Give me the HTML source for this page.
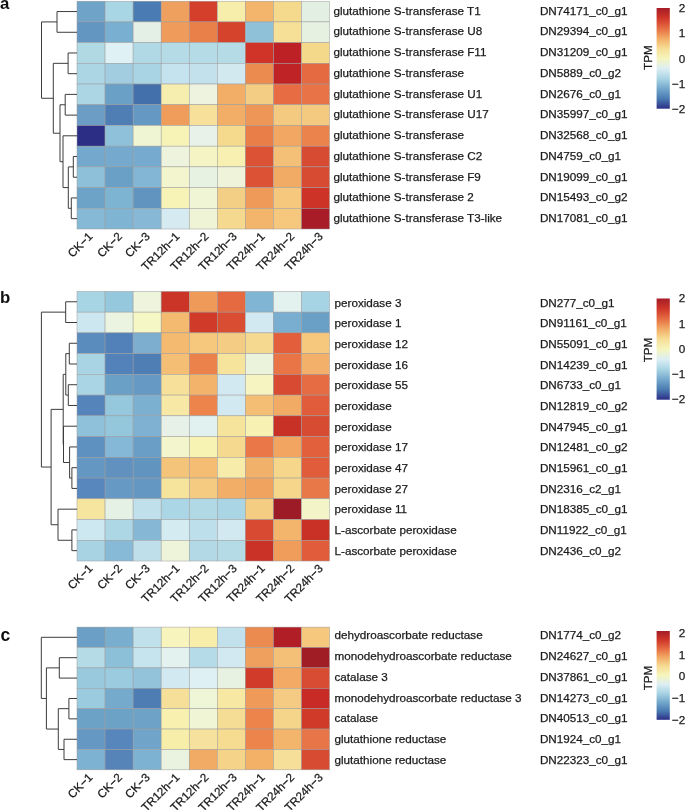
<!DOCTYPE html>
<html><head><meta charset="utf-8"><style>
html,body{margin:0;padding:0;background:#fff;}
body{width:685px;height:810px;overflow:hidden;}
svg{display:block;} text{filter:grayscale(1);}
text{font-family:"Liberation Sans",sans-serif;font-size:11.7px;fill:#1a1a1a;stroke:#1a1a1a;stroke-width:0.25px;}
text.lt{font-weight:bold;font-size:16.8px;fill:#150d0d;stroke:none;}
line{stroke:#3c3c3c;stroke-width:1.0;}
</style></head><body>
<svg width="685" height="810" viewBox="0 0 685 810">
<defs><linearGradient id="lg" x1="0" y1="0" x2="0" y2="1"><stop offset="0.00" stop-color="#a51c27"/><stop offset="0.10" stop-color="#cf3628"/><stop offset="0.20" stop-color="#e56c43"/><stop offset="0.30" stop-color="#f2ab65"/><stop offset="0.40" stop-color="#f6dd95"/><stop offset="0.50" stop-color="#f6f5bd"/><stop offset="0.60" stop-color="#dceef3"/><stop offset="0.70" stop-color="#a9d4e4"/><stop offset="0.80" stop-color="#74a8cc"/><stop offset="0.90" stop-color="#4a7bb2"/><stop offset="1.00" stop-color="#2c2e85"/></linearGradient></defs>
<rect width="685" height="810" fill="#fff"/>
<rect x="77.00" y="1.20" width="28.06" height="20.71" fill="#6fa3c7" stroke="#9c9c9c" stroke-width="0.5"/>
<rect x="105.06" y="1.20" width="28.06" height="20.71" fill="#a9d6e4" stroke="#9c9c9c" stroke-width="0.5"/>
<rect x="133.12" y="1.20" width="28.06" height="20.71" fill="#4a7bb2" stroke="#9c9c9c" stroke-width="0.5"/>
<rect x="161.18" y="1.20" width="28.06" height="20.71" fill="#f0a05e" stroke="#9c9c9c" stroke-width="0.5"/>
<rect x="189.24" y="1.20" width="28.06" height="20.71" fill="#d33f2b" stroke="#9c9c9c" stroke-width="0.5"/>
<rect x="217.30" y="1.20" width="28.06" height="20.71" fill="#f6eeaa" stroke="#9c9c9c" stroke-width="0.5"/>
<rect x="245.36" y="1.20" width="28.06" height="20.71" fill="#f2b56b" stroke="#9c9c9c" stroke-width="0.5"/>
<rect x="273.42" y="1.20" width="28.06" height="20.71" fill="#f5d98c" stroke="#9c9c9c" stroke-width="0.5"/>
<rect x="301.48" y="1.20" width="28.06" height="20.71" fill="#e4efe4" stroke="#9c9c9c" stroke-width="0.5"/>
<rect x="77.00" y="21.91" width="28.06" height="20.71" fill="#6496c2" stroke="#9c9c9c" stroke-width="0.5"/>
<rect x="105.06" y="21.91" width="28.06" height="20.71" fill="#79afd0" stroke="#9c9c9c" stroke-width="0.5"/>
<rect x="133.12" y="21.91" width="28.06" height="20.71" fill="#e4efe6" stroke="#9c9c9c" stroke-width="0.5"/>
<rect x="161.18" y="21.91" width="28.06" height="20.71" fill="#ef9b5b" stroke="#9c9c9c" stroke-width="0.5"/>
<rect x="189.24" y="21.91" width="28.06" height="20.71" fill="#ea8049" stroke="#9c9c9c" stroke-width="0.5"/>
<rect x="217.30" y="21.91" width="28.06" height="20.71" fill="#d5432c" stroke="#9c9c9c" stroke-width="0.5"/>
<rect x="245.36" y="21.91" width="28.06" height="20.71" fill="#8fc1d9" stroke="#9c9c9c" stroke-width="0.5"/>
<rect x="273.42" y="21.91" width="28.06" height="20.71" fill="#f6df96" stroke="#9c9c9c" stroke-width="0.5"/>
<rect x="301.48" y="21.91" width="28.06" height="20.71" fill="#e6f1e2" stroke="#9c9c9c" stroke-width="0.5"/>
<rect x="77.00" y="42.62" width="28.06" height="20.71" fill="#b0d9e4" stroke="#9c9c9c" stroke-width="0.5"/>
<rect x="105.06" y="42.62" width="28.06" height="20.71" fill="#e0f1f5" stroke="#9c9c9c" stroke-width="0.5"/>
<rect x="133.12" y="42.62" width="28.06" height="20.71" fill="#b1d9e5" stroke="#9c9c9c" stroke-width="0.5"/>
<rect x="161.18" y="42.62" width="28.06" height="20.71" fill="#b4dbe6" stroke="#9c9c9c" stroke-width="0.5"/>
<rect x="189.24" y="42.62" width="28.06" height="20.71" fill="#b4dbe6" stroke="#9c9c9c" stroke-width="0.5"/>
<rect x="217.30" y="42.62" width="28.06" height="20.71" fill="#b4dbe6" stroke="#9c9c9c" stroke-width="0.5"/>
<rect x="245.36" y="42.62" width="28.06" height="20.71" fill="#d03428" stroke="#9c9c9c" stroke-width="0.5"/>
<rect x="273.42" y="42.62" width="28.06" height="20.71" fill="#bd2025" stroke="#9c9c9c" stroke-width="0.5"/>
<rect x="301.48" y="42.62" width="28.06" height="20.71" fill="#f5d98b" stroke="#9c9c9c" stroke-width="0.5"/>
<rect x="77.00" y="63.33" width="28.06" height="20.71" fill="#acd6e4" stroke="#9c9c9c" stroke-width="0.5"/>
<rect x="105.06" y="63.33" width="28.06" height="20.71" fill="#a2cde0" stroke="#9c9c9c" stroke-width="0.5"/>
<rect x="133.12" y="63.33" width="28.06" height="20.71" fill="#a9d4e4" stroke="#9c9c9c" stroke-width="0.5"/>
<rect x="161.18" y="63.33" width="28.06" height="20.71" fill="#c5e3ef" stroke="#9c9c9c" stroke-width="0.5"/>
<rect x="189.24" y="63.33" width="28.06" height="20.71" fill="#c2e1ed" stroke="#9c9c9c" stroke-width="0.5"/>
<rect x="217.30" y="63.33" width="28.06" height="20.71" fill="#d3e9f0" stroke="#9c9c9c" stroke-width="0.5"/>
<rect x="245.36" y="63.33" width="28.06" height="20.71" fill="#ec8b4f" stroke="#9c9c9c" stroke-width="0.5"/>
<rect x="273.42" y="63.33" width="28.06" height="20.71" fill="#bf2326" stroke="#9c9c9c" stroke-width="0.5"/>
<rect x="301.48" y="63.33" width="28.06" height="20.71" fill="#e56a41" stroke="#9c9c9c" stroke-width="0.5"/>
<rect x="77.00" y="84.04" width="28.06" height="20.71" fill="#acd6e4" stroke="#9c9c9c" stroke-width="0.5"/>
<rect x="105.06" y="84.04" width="28.06" height="20.71" fill="#6a9fc6" stroke="#9c9c9c" stroke-width="0.5"/>
<rect x="133.12" y="84.04" width="28.06" height="20.71" fill="#436fab" stroke="#9c9c9c" stroke-width="0.5"/>
<rect x="161.18" y="84.04" width="28.06" height="20.71" fill="#f6eeae" stroke="#9c9c9c" stroke-width="0.5"/>
<rect x="189.24" y="84.04" width="28.06" height="20.71" fill="#eef3e0" stroke="#9c9c9c" stroke-width="0.5"/>
<rect x="217.30" y="84.04" width="28.06" height="20.71" fill="#f2ae66" stroke="#9c9c9c" stroke-width="0.5"/>
<rect x="245.36" y="84.04" width="28.06" height="20.71" fill="#f4cd84" stroke="#9c9c9c" stroke-width="0.5"/>
<rect x="273.42" y="84.04" width="28.06" height="20.71" fill="#e76c43" stroke="#9c9c9c" stroke-width="0.5"/>
<rect x="301.48" y="84.04" width="28.06" height="20.71" fill="#e77347" stroke="#9c9c9c" stroke-width="0.5"/>
<rect x="77.00" y="104.75" width="28.06" height="20.71" fill="#6b9dc5" stroke="#9c9c9c" stroke-width="0.5"/>
<rect x="105.06" y="104.75" width="28.06" height="20.71" fill="#4f7eb4" stroke="#9c9c9c" stroke-width="0.5"/>
<rect x="133.12" y="104.75" width="28.06" height="20.71" fill="#6599c3" stroke="#9c9c9c" stroke-width="0.5"/>
<rect x="161.18" y="104.75" width="28.06" height="20.71" fill="#f09c5b" stroke="#9c9c9c" stroke-width="0.5"/>
<rect x="189.24" y="104.75" width="28.06" height="20.71" fill="#f6e09a" stroke="#9c9c9c" stroke-width="0.5"/>
<rect x="217.30" y="104.75" width="28.06" height="20.71" fill="#f2ad66" stroke="#9c9c9c" stroke-width="0.5"/>
<rect x="245.36" y="104.75" width="28.06" height="20.71" fill="#ee9657" stroke="#9c9c9c" stroke-width="0.5"/>
<rect x="273.42" y="104.75" width="28.06" height="20.71" fill="#f4ca80" stroke="#9c9c9c" stroke-width="0.5"/>
<rect x="301.48" y="104.75" width="28.06" height="20.71" fill="#f4ca80" stroke="#9c9c9c" stroke-width="0.5"/>
<rect x="77.00" y="125.46" width="28.06" height="20.71" fill="#2c2e85" stroke="#9c9c9c" stroke-width="0.5"/>
<rect x="105.06" y="125.46" width="28.06" height="20.71" fill="#8fc2da" stroke="#9c9c9c" stroke-width="0.5"/>
<rect x="133.12" y="125.46" width="28.06" height="20.71" fill="#eff5d2" stroke="#9c9c9c" stroke-width="0.5"/>
<rect x="161.18" y="125.46" width="28.06" height="20.71" fill="#f7f3b7" stroke="#9c9c9c" stroke-width="0.5"/>
<rect x="189.24" y="125.46" width="28.06" height="20.71" fill="#e8f2e9" stroke="#9c9c9c" stroke-width="0.5"/>
<rect x="217.30" y="125.46" width="28.06" height="20.71" fill="#f5d98c" stroke="#9c9c9c" stroke-width="0.5"/>
<rect x="245.36" y="125.46" width="28.06" height="20.71" fill="#ea7e48" stroke="#9c9c9c" stroke-width="0.5"/>
<rect x="273.42" y="125.46" width="28.06" height="20.71" fill="#f2a863" stroke="#9c9c9c" stroke-width="0.5"/>
<rect x="301.48" y="125.46" width="28.06" height="20.71" fill="#eb844c" stroke="#9c9c9c" stroke-width="0.5"/>
<rect x="77.00" y="146.17" width="28.06" height="20.71" fill="#74a8cc" stroke="#9c9c9c" stroke-width="0.5"/>
<rect x="105.06" y="146.17" width="28.06" height="20.71" fill="#75a9cd" stroke="#9c9c9c" stroke-width="0.5"/>
<rect x="133.12" y="146.17" width="28.06" height="20.71" fill="#76aace" stroke="#9c9c9c" stroke-width="0.5"/>
<rect x="161.18" y="146.17" width="28.06" height="20.71" fill="#edf3dc" stroke="#9c9c9c" stroke-width="0.5"/>
<rect x="189.24" y="146.17" width="28.06" height="20.71" fill="#f4f4c5" stroke="#9c9c9c" stroke-width="0.5"/>
<rect x="217.30" y="146.17" width="28.06" height="20.71" fill="#f7f0b0" stroke="#9c9c9c" stroke-width="0.5"/>
<rect x="245.36" y="146.17" width="28.06" height="20.71" fill="#db5334" stroke="#9c9c9c" stroke-width="0.5"/>
<rect x="273.42" y="146.17" width="28.06" height="20.71" fill="#f4c077" stroke="#9c9c9c" stroke-width="0.5"/>
<rect x="301.48" y="146.17" width="28.06" height="20.71" fill="#d84b33" stroke="#9c9c9c" stroke-width="0.5"/>
<rect x="77.00" y="166.88" width="28.06" height="20.71" fill="#8ec1d9" stroke="#9c9c9c" stroke-width="0.5"/>
<rect x="105.06" y="166.88" width="28.06" height="20.71" fill="#6aa0c5" stroke="#9c9c9c" stroke-width="0.5"/>
<rect x="133.12" y="166.88" width="28.06" height="20.71" fill="#83b6d5" stroke="#9c9c9c" stroke-width="0.5"/>
<rect x="161.18" y="166.88" width="28.06" height="20.71" fill="#f3f5ce" stroke="#9c9c9c" stroke-width="0.5"/>
<rect x="189.24" y="166.88" width="28.06" height="20.71" fill="#e8f2e3" stroke="#9c9c9c" stroke-width="0.5"/>
<rect x="217.30" y="166.88" width="28.06" height="20.71" fill="#eef3da" stroke="#9c9c9c" stroke-width="0.5"/>
<rect x="245.36" y="166.88" width="28.06" height="20.71" fill="#db5334" stroke="#9c9c9c" stroke-width="0.5"/>
<rect x="273.42" y="166.88" width="28.06" height="20.71" fill="#f2ab65" stroke="#9c9c9c" stroke-width="0.5"/>
<rect x="301.48" y="166.88" width="28.06" height="20.71" fill="#d84b33" stroke="#9c9c9c" stroke-width="0.5"/>
<rect x="77.00" y="187.59" width="28.06" height="20.71" fill="#6ea3c8" stroke="#9c9c9c" stroke-width="0.5"/>
<rect x="105.06" y="187.59" width="28.06" height="20.71" fill="#7db4d1" stroke="#9c9c9c" stroke-width="0.5"/>
<rect x="133.12" y="187.59" width="28.06" height="20.71" fill="#6294c0" stroke="#9c9c9c" stroke-width="0.5"/>
<rect x="161.18" y="187.59" width="28.06" height="20.71" fill="#f7f3b7" stroke="#9c9c9c" stroke-width="0.5"/>
<rect x="189.24" y="187.59" width="28.06" height="20.71" fill="#f0f5d5" stroke="#9c9c9c" stroke-width="0.5"/>
<rect x="217.30" y="187.59" width="28.06" height="20.71" fill="#f3cf85" stroke="#9c9c9c" stroke-width="0.5"/>
<rect x="245.36" y="187.59" width="28.06" height="20.71" fill="#ef9a59" stroke="#9c9c9c" stroke-width="0.5"/>
<rect x="273.42" y="187.59" width="28.06" height="20.71" fill="#f5c87d" stroke="#9c9c9c" stroke-width="0.5"/>
<rect x="301.48" y="187.59" width="28.06" height="20.71" fill="#cd3327" stroke="#9c9c9c" stroke-width="0.5"/>
<rect x="77.00" y="208.30" width="28.06" height="20.71" fill="#85b9d6" stroke="#9c9c9c" stroke-width="0.5"/>
<rect x="105.06" y="208.30" width="28.06" height="20.71" fill="#80b4d3" stroke="#9c9c9c" stroke-width="0.5"/>
<rect x="133.12" y="208.30" width="28.06" height="20.71" fill="#87b9d6" stroke="#9c9c9c" stroke-width="0.5"/>
<rect x="161.18" y="208.30" width="28.06" height="20.71" fill="#d5eaf1" stroke="#9c9c9c" stroke-width="0.5"/>
<rect x="189.24" y="208.30" width="28.06" height="20.71" fill="#eef4d5" stroke="#9c9c9c" stroke-width="0.5"/>
<rect x="217.30" y="208.30" width="28.06" height="20.71" fill="#f5d98e" stroke="#9c9c9c" stroke-width="0.5"/>
<rect x="245.36" y="208.30" width="28.06" height="20.71" fill="#f3b46b" stroke="#9c9c9c" stroke-width="0.5"/>
<rect x="273.42" y="208.30" width="28.06" height="20.71" fill="#f5c87e" stroke="#9c9c9c" stroke-width="0.5"/>
<rect x="301.48" y="208.30" width="28.06" height="20.71" fill="#a71c26" stroke="#9c9c9c" stroke-width="0.5"/>
<text x="333.4" y="14.55">glutathione S-transferase T1</text>
<text x="539.9" y="14.55">DN74171_c0_g1</text>
<text x="333.4" y="35.31">glutathione S-transferase U8</text>
<text x="539.9" y="35.31">DN29394_c0_g1</text>
<text x="333.4" y="56.07">glutathione S-transferase F11</text>
<text x="539.9" y="56.07">DN31209_c0_g1</text>
<text x="333.4" y="76.83">glutathione S-transferase</text>
<text x="539.9" y="76.83">DN5889_c0_g2</text>
<text x="333.4" y="97.59">glutathione S-transferase U1</text>
<text x="539.9" y="97.59">DN2676_c0_g1</text>
<text x="333.4" y="118.35">glutathione S-transferase U17</text>
<text x="539.9" y="118.35">DN35997_c0_g1</text>
<text x="333.4" y="139.11">glutathione S-transferase</text>
<text x="539.9" y="139.11">DN32568_c0_g1</text>
<text x="333.4" y="159.87">glutathione S-transferase C2</text>
<text x="539.9" y="159.87">DN4759_c0_g1</text>
<text x="333.4" y="180.63">glutathione S-transferase F9</text>
<text x="539.9" y="180.63">DN19099_c0_g1</text>
<text x="333.4" y="201.39">glutathione S-transferase 2</text>
<text x="539.9" y="201.39">DN15493_c0_g2</text>
<text x="333.4" y="222.15">glutathione S-transferase T3-like</text>
<text x="539.9" y="222.15">DN17081_c0_g1</text>
<text text-anchor="end" transform="translate(93.43,237.21) rotate(-45)">CK−1</text>
<text text-anchor="end" transform="translate(122.89,237.21) rotate(-45)">CK−2</text>
<text text-anchor="end" transform="translate(150.65,237.21) rotate(-45)">CK−3</text>
<text text-anchor="end" transform="translate(180.41,237.21) rotate(-45)">TR12h−1</text>
<text text-anchor="end" transform="translate(209.47,237.21) rotate(-45)">TR12h−2</text>
<text text-anchor="end" transform="translate(237.53,237.21) rotate(-45)">TR12h−3</text>
<text text-anchor="end" transform="translate(265.69,237.21) rotate(-45)">TR24h−1</text>
<text text-anchor="end" transform="translate(295.15,237.21) rotate(-45)">TR24h−2</text>
<text text-anchor="end" transform="translate(323.61,237.21) rotate(-45)">TR24h−3</text>
<line x1="57.00" y1="11.55" x2="57.00" y2="32.27"/>
<line x1="57.00" y1="11.55" x2="77.00" y2="11.55"/>
<line x1="57.00" y1="32.27" x2="77.00" y2="32.27"/>
<line x1="68.10" y1="52.98" x2="68.10" y2="73.69"/>
<line x1="68.10" y1="52.98" x2="77.00" y2="52.98"/>
<line x1="68.10" y1="73.69" x2="77.00" y2="73.69"/>
<line x1="65.20" y1="94.40" x2="65.20" y2="115.11"/>
<line x1="65.20" y1="94.40" x2="77.00" y2="94.40"/>
<line x1="65.20" y1="115.11" x2="77.00" y2="115.11"/>
<line x1="73.30" y1="156.53" x2="73.30" y2="177.23"/>
<line x1="73.30" y1="156.53" x2="77.00" y2="156.53"/>
<line x1="73.30" y1="177.23" x2="77.00" y2="177.23"/>
<line x1="71.30" y1="197.94" x2="71.30" y2="218.66"/>
<line x1="71.30" y1="197.94" x2="77.00" y2="197.94"/>
<line x1="71.30" y1="218.66" x2="77.00" y2="218.66"/>
<line x1="68.30" y1="166.88" x2="68.30" y2="208.30"/>
<line x1="68.30" y1="166.88" x2="73.30" y2="166.88"/>
<line x1="68.30" y1="208.30" x2="71.30" y2="208.30"/>
<line x1="63.00" y1="135.81" x2="63.00" y2="187.59"/>
<line x1="63.00" y1="135.81" x2="77.00" y2="135.81"/>
<line x1="63.00" y1="187.59" x2="68.30" y2="187.59"/>
<line x1="60.00" y1="104.75" x2="60.00" y2="161.70"/>
<line x1="60.00" y1="104.75" x2="65.20" y2="104.75"/>
<line x1="60.00" y1="161.70" x2="63.00" y2="161.70"/>
<line x1="53.30" y1="63.33" x2="53.30" y2="133.23"/>
<line x1="53.30" y1="63.33" x2="68.10" y2="63.33"/>
<line x1="53.30" y1="133.23" x2="60.00" y2="133.23"/>
<line x1="41.50" y1="21.91" x2="41.50" y2="98.28"/>
<line x1="41.50" y1="21.91" x2="57.00" y2="21.91"/>
<line x1="41.50" y1="98.28" x2="53.30" y2="98.28"/>
<text class="lt" x="0.0" y="9.3" style="font-size:16.8px">a</text>
<rect x="656.6" y="8.0" width="13.2" height="100.70" fill="url(#lg)"/>
<text text-anchor="end" x="685.3" y="12.05">2</text>
<text text-anchor="end" x="685.3" y="37.10">1</text>
<text text-anchor="end" x="685.3" y="62.50">0</text>
<text text-anchor="end" x="685.3" y="87.50">−1</text>
<text text-anchor="end" x="685.3" y="112.50">−2</text>
<text text-anchor="middle" transform="translate(652.2,57.60) rotate(-90)">TPM</text>
<rect x="77.00" y="291.40" width="28.06" height="20.74" fill="#a8d5e4" stroke="#9c9c9c" stroke-width="0.5"/>
<rect x="105.06" y="291.40" width="28.06" height="20.74" fill="#96c8dd" stroke="#9c9c9c" stroke-width="0.5"/>
<rect x="133.12" y="291.40" width="28.06" height="20.74" fill="#eef5dc" stroke="#9c9c9c" stroke-width="0.5"/>
<rect x="161.18" y="291.40" width="28.06" height="20.74" fill="#cb3527" stroke="#9c9c9c" stroke-width="0.5"/>
<rect x="189.24" y="291.40" width="28.06" height="20.74" fill="#ef9a59" stroke="#9c9c9c" stroke-width="0.5"/>
<rect x="217.30" y="291.40" width="28.06" height="20.74" fill="#e56a42" stroke="#9c9c9c" stroke-width="0.5"/>
<rect x="245.36" y="291.40" width="28.06" height="20.74" fill="#80b6d4" stroke="#9c9c9c" stroke-width="0.5"/>
<rect x="273.42" y="291.40" width="28.06" height="20.74" fill="#e3f2ee" stroke="#9c9c9c" stroke-width="0.5"/>
<rect x="301.48" y="291.40" width="28.06" height="20.74" fill="#a7d4e4" stroke="#9c9c9c" stroke-width="0.5"/>
<rect x="77.00" y="312.14" width="28.06" height="20.74" fill="#cde7f1" stroke="#9c9c9c" stroke-width="0.5"/>
<rect x="105.06" y="312.14" width="28.06" height="20.74" fill="#eaf4e1" stroke="#9c9c9c" stroke-width="0.5"/>
<rect x="133.12" y="312.14" width="28.06" height="20.74" fill="#f5f7c5" stroke="#9c9c9c" stroke-width="0.5"/>
<rect x="161.18" y="312.14" width="28.06" height="20.74" fill="#f4bb70" stroke="#9c9c9c" stroke-width="0.5"/>
<rect x="189.24" y="312.14" width="28.06" height="20.74" fill="#d03a29" stroke="#9c9c9c" stroke-width="0.5"/>
<rect x="217.30" y="312.14" width="28.06" height="20.74" fill="#d94d33" stroke="#9c9c9c" stroke-width="0.5"/>
<rect x="245.36" y="312.14" width="28.06" height="20.74" fill="#d3e9f1" stroke="#9c9c9c" stroke-width="0.5"/>
<rect x="273.42" y="312.14" width="28.06" height="20.74" fill="#7aaed0" stroke="#9c9c9c" stroke-width="0.5"/>
<rect x="301.48" y="312.14" width="28.06" height="20.74" fill="#6a9fc6" stroke="#9c9c9c" stroke-width="0.5"/>
<rect x="77.00" y="332.88" width="28.06" height="20.74" fill="#5a8cbe" stroke="#9c9c9c" stroke-width="0.5"/>
<rect x="105.06" y="332.88" width="28.06" height="20.74" fill="#5281b9" stroke="#9c9c9c" stroke-width="0.5"/>
<rect x="133.12" y="332.88" width="28.06" height="20.74" fill="#7daed0" stroke="#9c9c9c" stroke-width="0.5"/>
<rect x="161.18" y="332.88" width="28.06" height="20.74" fill="#f4bb70" stroke="#9c9c9c" stroke-width="0.5"/>
<rect x="189.24" y="332.88" width="28.06" height="20.74" fill="#f5c87e" stroke="#9c9c9c" stroke-width="0.5"/>
<rect x="217.30" y="332.88" width="28.06" height="20.74" fill="#f5cc83" stroke="#9c9c9c" stroke-width="0.5"/>
<rect x="245.36" y="332.88" width="28.06" height="20.74" fill="#f6d990" stroke="#9c9c9c" stroke-width="0.5"/>
<rect x="273.42" y="332.88" width="28.06" height="20.74" fill="#e35e3b" stroke="#9c9c9c" stroke-width="0.5"/>
<rect x="301.48" y="332.88" width="28.06" height="20.74" fill="#f5c87e" stroke="#9c9c9c" stroke-width="0.5"/>
<rect x="77.00" y="353.62" width="28.06" height="20.74" fill="#a9d4e3" stroke="#9c9c9c" stroke-width="0.5"/>
<rect x="105.06" y="353.62" width="28.06" height="20.74" fill="#5381b9" stroke="#9c9c9c" stroke-width="0.5"/>
<rect x="133.12" y="353.62" width="28.06" height="20.74" fill="#4f7eb5" stroke="#9c9c9c" stroke-width="0.5"/>
<rect x="161.18" y="353.62" width="28.06" height="20.74" fill="#f4bf74" stroke="#9c9c9c" stroke-width="0.5"/>
<rect x="189.24" y="353.62" width="28.06" height="20.74" fill="#ec824b" stroke="#9c9c9c" stroke-width="0.5"/>
<rect x="217.30" y="353.62" width="28.06" height="20.74" fill="#f6e39c" stroke="#9c9c9c" stroke-width="0.5"/>
<rect x="245.36" y="353.62" width="28.06" height="20.74" fill="#ebf3dc" stroke="#9c9c9c" stroke-width="0.5"/>
<rect x="273.42" y="353.62" width="28.06" height="20.74" fill="#e97546" stroke="#9c9c9c" stroke-width="0.5"/>
<rect x="301.48" y="353.62" width="28.06" height="20.74" fill="#f2b06a" stroke="#9c9c9c" stroke-width="0.5"/>
<rect x="77.00" y="374.36" width="28.06" height="20.74" fill="#aad5e4" stroke="#9c9c9c" stroke-width="0.5"/>
<rect x="105.06" y="374.36" width="28.06" height="20.74" fill="#6a9fc6" stroke="#9c9c9c" stroke-width="0.5"/>
<rect x="133.12" y="374.36" width="28.06" height="20.74" fill="#6699c4" stroke="#9c9c9c" stroke-width="0.5"/>
<rect x="161.18" y="374.36" width="28.06" height="20.74" fill="#f6e09a" stroke="#9c9c9c" stroke-width="0.5"/>
<rect x="189.24" y="374.36" width="28.06" height="20.74" fill="#f3b36a" stroke="#9c9c9c" stroke-width="0.5"/>
<rect x="217.30" y="374.36" width="28.06" height="20.74" fill="#d3e9f1" stroke="#9c9c9c" stroke-width="0.5"/>
<rect x="245.36" y="374.36" width="28.06" height="20.74" fill="#f6f4c0" stroke="#9c9c9c" stroke-width="0.5"/>
<rect x="273.42" y="374.36" width="28.06" height="20.74" fill="#d84a32" stroke="#9c9c9c" stroke-width="0.5"/>
<rect x="301.48" y="374.36" width="28.06" height="20.74" fill="#e66c44" stroke="#9c9c9c" stroke-width="0.5"/>
<rect x="77.00" y="395.10" width="28.06" height="20.74" fill="#5584bb" stroke="#9c9c9c" stroke-width="0.5"/>
<rect x="105.06" y="395.10" width="28.06" height="20.74" fill="#96c8dd" stroke="#9c9c9c" stroke-width="0.5"/>
<rect x="133.12" y="395.10" width="28.06" height="20.74" fill="#7bb0d1" stroke="#9c9c9c" stroke-width="0.5"/>
<rect x="161.18" y="395.10" width="28.06" height="20.74" fill="#f7e8a6" stroke="#9c9c9c" stroke-width="0.5"/>
<rect x="189.24" y="395.10" width="28.06" height="20.74" fill="#ec844c" stroke="#9c9c9c" stroke-width="0.5"/>
<rect x="217.30" y="395.10" width="28.06" height="20.74" fill="#d3e9f1" stroke="#9c9c9c" stroke-width="0.5"/>
<rect x="245.36" y="395.10" width="28.06" height="20.74" fill="#f4bf74" stroke="#9c9c9c" stroke-width="0.5"/>
<rect x="273.42" y="395.10" width="28.06" height="20.74" fill="#f2ab65" stroke="#9c9c9c" stroke-width="0.5"/>
<rect x="301.48" y="395.10" width="28.06" height="20.74" fill="#e05c3b" stroke="#9c9c9c" stroke-width="0.5"/>
<rect x="77.00" y="415.84" width="28.06" height="20.74" fill="#8fc2da" stroke="#9c9c9c" stroke-width="0.5"/>
<rect x="105.06" y="415.84" width="28.06" height="20.74" fill="#94c7dc" stroke="#9c9c9c" stroke-width="0.5"/>
<rect x="133.12" y="415.84" width="28.06" height="20.74" fill="#7eb1d2" stroke="#9c9c9c" stroke-width="0.5"/>
<rect x="161.18" y="415.84" width="28.06" height="20.74" fill="#e7f1e8" stroke="#9c9c9c" stroke-width="0.5"/>
<rect x="189.24" y="415.84" width="28.06" height="20.74" fill="#e1f1f0" stroke="#9c9c9c" stroke-width="0.5"/>
<rect x="217.30" y="415.84" width="28.06" height="20.74" fill="#f6e39c" stroke="#9c9c9c" stroke-width="0.5"/>
<rect x="245.36" y="415.84" width="28.06" height="20.74" fill="#f7f1b3" stroke="#9c9c9c" stroke-width="0.5"/>
<rect x="273.42" y="415.84" width="28.06" height="20.74" fill="#c83226" stroke="#9c9c9c" stroke-width="0.5"/>
<rect x="301.48" y="415.84" width="28.06" height="20.74" fill="#d84b33" stroke="#9c9c9c" stroke-width="0.5"/>
<rect x="77.00" y="436.58" width="28.06" height="20.74" fill="#5e91c0" stroke="#9c9c9c" stroke-width="0.5"/>
<rect x="105.06" y="436.58" width="28.06" height="20.74" fill="#85b8d6" stroke="#9c9c9c" stroke-width="0.5"/>
<rect x="133.12" y="436.58" width="28.06" height="20.74" fill="#6a9ec6" stroke="#9c9c9c" stroke-width="0.5"/>
<rect x="161.18" y="436.58" width="28.06" height="20.74" fill="#f3f5cc" stroke="#9c9c9c" stroke-width="0.5"/>
<rect x="189.24" y="436.58" width="28.06" height="20.74" fill="#f7f3b3" stroke="#9c9c9c" stroke-width="0.5"/>
<rect x="217.30" y="436.58" width="28.06" height="20.74" fill="#f5d98e" stroke="#9c9c9c" stroke-width="0.5"/>
<rect x="245.36" y="436.58" width="28.06" height="20.74" fill="#e97748" stroke="#9c9c9c" stroke-width="0.5"/>
<rect x="273.42" y="436.58" width="28.06" height="20.74" fill="#f1a561" stroke="#9c9c9c" stroke-width="0.5"/>
<rect x="301.48" y="436.58" width="28.06" height="20.74" fill="#e3603d" stroke="#9c9c9c" stroke-width="0.5"/>
<rect x="77.00" y="457.32" width="28.06" height="20.74" fill="#6597c3" stroke="#9c9c9c" stroke-width="0.5"/>
<rect x="105.06" y="457.32" width="28.06" height="20.74" fill="#6191bf" stroke="#9c9c9c" stroke-width="0.5"/>
<rect x="133.12" y="457.32" width="28.06" height="20.74" fill="#6294c0" stroke="#9c9c9c" stroke-width="0.5"/>
<rect x="161.18" y="457.32" width="28.06" height="20.74" fill="#f4c47a" stroke="#9c9c9c" stroke-width="0.5"/>
<rect x="189.24" y="457.32" width="28.06" height="20.74" fill="#f4bd73" stroke="#9c9c9c" stroke-width="0.5"/>
<rect x="217.30" y="457.32" width="28.06" height="20.74" fill="#f7ecaa" stroke="#9c9c9c" stroke-width="0.5"/>
<rect x="245.36" y="457.32" width="28.06" height="20.74" fill="#f2b16a" stroke="#9c9c9c" stroke-width="0.5"/>
<rect x="273.42" y="457.32" width="28.06" height="20.74" fill="#f5d68b" stroke="#9c9c9c" stroke-width="0.5"/>
<rect x="301.48" y="457.32" width="28.06" height="20.74" fill="#e05c3b" stroke="#9c9c9c" stroke-width="0.5"/>
<rect x="77.00" y="478.06" width="28.06" height="20.74" fill="#5787bc" stroke="#9c9c9c" stroke-width="0.5"/>
<rect x="105.06" y="478.06" width="28.06" height="20.74" fill="#6699c4" stroke="#9c9c9c" stroke-width="0.5"/>
<rect x="133.12" y="478.06" width="28.06" height="20.74" fill="#6597c3" stroke="#9c9c9c" stroke-width="0.5"/>
<rect x="161.18" y="478.06" width="28.06" height="20.74" fill="#f6e39c" stroke="#9c9c9c" stroke-width="0.5"/>
<rect x="189.24" y="478.06" width="28.06" height="20.74" fill="#f5cb81" stroke="#9c9c9c" stroke-width="0.5"/>
<rect x="217.30" y="478.06" width="28.06" height="20.74" fill="#f2ad66" stroke="#9c9c9c" stroke-width="0.5"/>
<rect x="245.36" y="478.06" width="28.06" height="20.74" fill="#f0a35f" stroke="#9c9c9c" stroke-width="0.5"/>
<rect x="273.42" y="478.06" width="28.06" height="20.74" fill="#f5d68b" stroke="#9c9c9c" stroke-width="0.5"/>
<rect x="301.48" y="478.06" width="28.06" height="20.74" fill="#e97849" stroke="#9c9c9c" stroke-width="0.5"/>
<rect x="77.00" y="498.80" width="28.06" height="20.74" fill="#f6e59e" stroke="#9c9c9c" stroke-width="0.5"/>
<rect x="105.06" y="498.80" width="28.06" height="20.74" fill="#e6f1e6" stroke="#9c9c9c" stroke-width="0.5"/>
<rect x="133.12" y="498.80" width="28.06" height="20.74" fill="#c0e1ec" stroke="#9c9c9c" stroke-width="0.5"/>
<rect x="161.18" y="498.80" width="28.06" height="20.74" fill="#abd6e5" stroke="#9c9c9c" stroke-width="0.5"/>
<rect x="189.24" y="498.80" width="28.06" height="20.74" fill="#b0d8e5" stroke="#9c9c9c" stroke-width="0.5"/>
<rect x="217.30" y="498.80" width="28.06" height="20.74" fill="#a9d5e4" stroke="#9c9c9c" stroke-width="0.5"/>
<rect x="245.36" y="498.80" width="28.06" height="20.74" fill="#f4cc82" stroke="#9c9c9c" stroke-width="0.5"/>
<rect x="273.42" y="498.80" width="28.06" height="20.74" fill="#9c1b26" stroke="#9c9c9c" stroke-width="0.5"/>
<rect x="301.48" y="498.80" width="28.06" height="20.74" fill="#f3f5c9" stroke="#9c9c9c" stroke-width="0.5"/>
<rect x="77.00" y="519.54" width="28.06" height="20.74" fill="#cde8f1" stroke="#9c9c9c" stroke-width="0.5"/>
<rect x="105.06" y="519.54" width="28.06" height="20.74" fill="#add7e5" stroke="#9c9c9c" stroke-width="0.5"/>
<rect x="133.12" y="519.54" width="28.06" height="20.74" fill="#86b8d6" stroke="#9c9c9c" stroke-width="0.5"/>
<rect x="161.18" y="519.54" width="28.06" height="20.74" fill="#d5ebf2" stroke="#9c9c9c" stroke-width="0.5"/>
<rect x="189.24" y="519.54" width="28.06" height="20.74" fill="#bcdfeb" stroke="#9c9c9c" stroke-width="0.5"/>
<rect x="217.30" y="519.54" width="28.06" height="20.74" fill="#d3e9f1" stroke="#9c9c9c" stroke-width="0.5"/>
<rect x="245.36" y="519.54" width="28.06" height="20.74" fill="#d84a32" stroke="#9c9c9c" stroke-width="0.5"/>
<rect x="273.42" y="519.54" width="28.06" height="20.74" fill="#f3b56b" stroke="#9c9c9c" stroke-width="0.5"/>
<rect x="301.48" y="519.54" width="28.06" height="20.74" fill="#c93126" stroke="#9c9c9c" stroke-width="0.5"/>
<rect x="77.00" y="540.28" width="28.06" height="20.74" fill="#a7d3e3" stroke="#9c9c9c" stroke-width="0.5"/>
<rect x="105.06" y="540.28" width="28.06" height="20.74" fill="#87bad6" stroke="#9c9c9c" stroke-width="0.5"/>
<rect x="133.12" y="540.28" width="28.06" height="20.74" fill="#bfe0eb" stroke="#9c9c9c" stroke-width="0.5"/>
<rect x="161.18" y="540.28" width="28.06" height="20.74" fill="#eef4d9" stroke="#9c9c9c" stroke-width="0.5"/>
<rect x="189.24" y="540.28" width="28.06" height="20.74" fill="#b3d9e6" stroke="#9c9c9c" stroke-width="0.5"/>
<rect x="217.30" y="540.28" width="28.06" height="20.74" fill="#b5dbe6" stroke="#9c9c9c" stroke-width="0.5"/>
<rect x="245.36" y="540.28" width="28.06" height="20.74" fill="#cb3227" stroke="#9c9c9c" stroke-width="0.5"/>
<rect x="273.42" y="540.28" width="28.06" height="20.74" fill="#f09c5b" stroke="#9c9c9c" stroke-width="0.5"/>
<rect x="301.48" y="540.28" width="28.06" height="20.74" fill="#e05c3b" stroke="#9c9c9c" stroke-width="0.5"/>
<text x="334.5" y="306.60">peroxidase 3</text>
<text x="539.9" y="306.60">DN277_c0_g1</text>
<text x="334.5" y="327.27">peroxidase 1</text>
<text x="539.9" y="327.27">DN91161_c0_g1</text>
<text x="334.5" y="347.94">peroxidase 12</text>
<text x="539.9" y="347.94">DN55091_c0_g1</text>
<text x="334.5" y="368.61">peroxidase 16</text>
<text x="539.9" y="368.61">DN14239_c0_g1</text>
<text x="334.5" y="389.28">peroxidase 55</text>
<text x="539.9" y="389.28">DN6733_c0_g1</text>
<text x="334.5" y="409.95">peroxidase</text>
<text x="539.9" y="409.95">DN12819_c0_g2</text>
<text x="334.5" y="430.62">peroxidase</text>
<text x="539.9" y="430.62">DN47945_c0_g1</text>
<text x="334.5" y="451.29">peroxidase 17</text>
<text x="539.9" y="451.29">DN12481_c0_g2</text>
<text x="334.5" y="471.96">peroxidase 47</text>
<text x="539.9" y="471.96">DN15961_c0_g1</text>
<text x="334.5" y="492.63">peroxidase 27</text>
<text x="539.9" y="492.63">DN2316_c2_g1</text>
<text x="334.5" y="513.30">peroxidase 11</text>
<text x="539.9" y="513.30">DN18385_c0_g1</text>
<text x="334.5" y="533.97">L-ascorbate peroxidase</text>
<text x="539.9" y="533.97">DN11922_c0_g1</text>
<text x="334.5" y="554.64">L-ascorbate peroxidase</text>
<text x="539.9" y="554.64">DN2436_c0_g2</text>
<text text-anchor="end" transform="translate(93.43,569.22) rotate(-45)">CK−1</text>
<text text-anchor="end" transform="translate(122.89,569.22) rotate(-45)">CK−2</text>
<text text-anchor="end" transform="translate(150.65,569.22) rotate(-45)">CK−3</text>
<text text-anchor="end" transform="translate(180.41,569.22) rotate(-45)">TR12h−1</text>
<text text-anchor="end" transform="translate(209.47,569.22) rotate(-45)">TR12h−2</text>
<text text-anchor="end" transform="translate(237.53,569.22) rotate(-45)">TR12h−3</text>
<text text-anchor="end" transform="translate(265.69,569.22) rotate(-45)">TR24h−1</text>
<text text-anchor="end" transform="translate(295.15,569.22) rotate(-45)">TR24h−2</text>
<text text-anchor="end" transform="translate(323.61,569.22) rotate(-45)">TR24h−3</text>
<line x1="65.70" y1="301.77" x2="65.70" y2="322.51"/>
<line x1="65.70" y1="301.77" x2="77.00" y2="301.77"/>
<line x1="65.70" y1="322.51" x2="77.00" y2="322.51"/>
<line x1="69.30" y1="343.25" x2="69.30" y2="363.99"/>
<line x1="69.30" y1="343.25" x2="77.00" y2="343.25"/>
<line x1="69.30" y1="363.99" x2="77.00" y2="363.99"/>
<line x1="68.30" y1="384.73" x2="68.30" y2="405.47"/>
<line x1="68.30" y1="384.73" x2="77.00" y2="384.73"/>
<line x1="68.30" y1="405.47" x2="77.00" y2="405.47"/>
<line x1="71.90" y1="467.69" x2="71.90" y2="488.43"/>
<line x1="71.90" y1="467.69" x2="77.00" y2="467.69"/>
<line x1="71.90" y1="488.43" x2="77.00" y2="488.43"/>
<line x1="71.90" y1="529.91" x2="71.90" y2="550.65"/>
<line x1="71.90" y1="529.91" x2="77.00" y2="529.91"/>
<line x1="71.90" y1="550.65" x2="77.00" y2="550.65"/>
<line x1="65.80" y1="353.62" x2="65.80" y2="395.10"/>
<line x1="65.80" y1="353.62" x2="69.30" y2="353.62"/>
<line x1="65.80" y1="395.10" x2="68.30" y2="395.10"/>
<line x1="69.60" y1="446.95" x2="69.60" y2="478.06"/>
<line x1="69.60" y1="446.95" x2="77.00" y2="446.95"/>
<line x1="69.60" y1="478.06" x2="71.90" y2="478.06"/>
<line x1="63.50" y1="426.21" x2="63.50" y2="462.50"/>
<line x1="63.50" y1="426.21" x2="77.00" y2="426.21"/>
<line x1="63.50" y1="462.50" x2="69.60" y2="462.50"/>
<line x1="63.20" y1="374.36" x2="63.20" y2="444.36"/>
<line x1="63.20" y1="374.36" x2="65.80" y2="374.36"/>
<line x1="63.20" y1="444.36" x2="63.50" y2="444.36"/>
<line x1="58.00" y1="509.17" x2="58.00" y2="540.28"/>
<line x1="58.00" y1="509.17" x2="77.00" y2="509.17"/>
<line x1="58.00" y1="540.28" x2="71.90" y2="540.28"/>
<line x1="51.10" y1="409.36" x2="51.10" y2="524.72"/>
<line x1="51.10" y1="409.36" x2="63.20" y2="409.36"/>
<line x1="51.10" y1="524.72" x2="58.00" y2="524.72"/>
<line x1="41.40" y1="312.14" x2="41.40" y2="467.04"/>
<line x1="41.40" y1="312.14" x2="65.70" y2="312.14"/>
<line x1="41.40" y1="467.04" x2="51.10" y2="467.04"/>
<text class="lt" x="0.0" y="302.6" style="font-size:16.8px">b</text>
<rect x="656.6" y="298.5" width="13.2" height="101.20" fill="url(#lg)"/>
<text text-anchor="end" x="685.3" y="302.30">2</text>
<text text-anchor="end" x="685.3" y="327.60">1</text>
<text text-anchor="end" x="685.3" y="353.10">0</text>
<text text-anchor="end" x="685.3" y="378.20">−1</text>
<text text-anchor="end" x="685.3" y="403.30">−2</text>
<text text-anchor="middle" transform="translate(652.2,350.00) rotate(-90)">TPM</text>
<rect x="77.00" y="627.10" width="28.06" height="20.39" fill="#6b9fc5" stroke="#9c9c9c" stroke-width="0.5"/>
<rect x="105.06" y="627.10" width="28.06" height="20.39" fill="#79aecf" stroke="#9c9c9c" stroke-width="0.5"/>
<rect x="133.12" y="627.10" width="28.06" height="20.39" fill="#c0e0eb" stroke="#9c9c9c" stroke-width="0.5"/>
<rect x="161.18" y="627.10" width="28.06" height="20.39" fill="#f7f4bd" stroke="#9c9c9c" stroke-width="0.5"/>
<rect x="189.24" y="627.10" width="28.06" height="20.39" fill="#f8eea9" stroke="#9c9c9c" stroke-width="0.5"/>
<rect x="217.30" y="627.10" width="28.06" height="20.39" fill="#c2e1ed" stroke="#9c9c9c" stroke-width="0.5"/>
<rect x="245.36" y="627.10" width="28.06" height="20.39" fill="#ec8b50" stroke="#9c9c9c" stroke-width="0.5"/>
<rect x="273.42" y="627.10" width="28.06" height="20.39" fill="#b21e26" stroke="#9c9c9c" stroke-width="0.5"/>
<rect x="301.48" y="627.10" width="28.06" height="20.39" fill="#f5c87e" stroke="#9c9c9c" stroke-width="0.5"/>
<rect x="77.00" y="647.49" width="28.06" height="20.39" fill="#b5dbe6" stroke="#9c9c9c" stroke-width="0.5"/>
<rect x="105.06" y="647.49" width="28.06" height="20.39" fill="#8cbfd8" stroke="#9c9c9c" stroke-width="0.5"/>
<rect x="133.12" y="647.49" width="28.06" height="20.39" fill="#c6e4ee" stroke="#9c9c9c" stroke-width="0.5"/>
<rect x="161.18" y="647.49" width="28.06" height="20.39" fill="#e3f2ef" stroke="#9c9c9c" stroke-width="0.5"/>
<rect x="189.24" y="647.49" width="28.06" height="20.39" fill="#b4dbe7" stroke="#9c9c9c" stroke-width="0.5"/>
<rect x="217.30" y="647.49" width="28.06" height="20.39" fill="#d3e9f1" stroke="#9c9c9c" stroke-width="0.5"/>
<rect x="245.36" y="647.49" width="28.06" height="20.39" fill="#f0a05e" stroke="#9c9c9c" stroke-width="0.5"/>
<rect x="273.42" y="647.49" width="28.06" height="20.39" fill="#f4c077" stroke="#9c9c9c" stroke-width="0.5"/>
<rect x="301.48" y="647.49" width="28.06" height="20.39" fill="#a11d26" stroke="#9c9c9c" stroke-width="0.5"/>
<rect x="77.00" y="667.88" width="28.06" height="20.39" fill="#98c9dd" stroke="#9c9c9c" stroke-width="0.5"/>
<rect x="105.06" y="667.88" width="28.06" height="20.39" fill="#9acbdf" stroke="#9c9c9c" stroke-width="0.5"/>
<rect x="133.12" y="667.88" width="28.06" height="20.39" fill="#92c3da" stroke="#9c9c9c" stroke-width="0.5"/>
<rect x="161.18" y="667.88" width="28.06" height="20.39" fill="#d3e9f1" stroke="#9c9c9c" stroke-width="0.5"/>
<rect x="189.24" y="667.88" width="28.06" height="20.39" fill="#dff0f4" stroke="#9c9c9c" stroke-width="0.5"/>
<rect x="217.30" y="667.88" width="28.06" height="20.39" fill="#e8f2e3" stroke="#9c9c9c" stroke-width="0.5"/>
<rect x="245.36" y="667.88" width="28.06" height="20.39" fill="#d03b2a" stroke="#9c9c9c" stroke-width="0.5"/>
<rect x="273.42" y="667.88" width="28.06" height="20.39" fill="#f2aa64" stroke="#9c9c9c" stroke-width="0.5"/>
<rect x="301.48" y="667.88" width="28.06" height="20.39" fill="#d84c33" stroke="#9c9c9c" stroke-width="0.5"/>
<rect x="77.00" y="688.27" width="28.06" height="20.39" fill="#9acbdf" stroke="#9c9c9c" stroke-width="0.5"/>
<rect x="105.06" y="688.27" width="28.06" height="20.39" fill="#76aacd" stroke="#9c9c9c" stroke-width="0.5"/>
<rect x="133.12" y="688.27" width="28.06" height="20.39" fill="#4e7db4" stroke="#9c9c9c" stroke-width="0.5"/>
<rect x="161.18" y="688.27" width="28.06" height="20.39" fill="#f6df98" stroke="#9c9c9c" stroke-width="0.5"/>
<rect x="189.24" y="688.27" width="28.06" height="20.39" fill="#eff5d7" stroke="#9c9c9c" stroke-width="0.5"/>
<rect x="217.30" y="688.27" width="28.06" height="20.39" fill="#f7e8a4" stroke="#9c9c9c" stroke-width="0.5"/>
<rect x="245.36" y="688.27" width="28.06" height="20.39" fill="#ef9a59" stroke="#9c9c9c" stroke-width="0.5"/>
<rect x="273.42" y="688.27" width="28.06" height="20.39" fill="#f5cb83" stroke="#9c9c9c" stroke-width="0.5"/>
<rect x="301.48" y="688.27" width="28.06" height="20.39" fill="#c82b25" stroke="#9c9c9c" stroke-width="0.5"/>
<rect x="77.00" y="708.66" width="28.06" height="20.39" fill="#6da2c7" stroke="#9c9c9c" stroke-width="0.5"/>
<rect x="105.06" y="708.66" width="28.06" height="20.39" fill="#6da2c7" stroke="#9c9c9c" stroke-width="0.5"/>
<rect x="133.12" y="708.66" width="28.06" height="20.39" fill="#6ea3c7" stroke="#9c9c9c" stroke-width="0.5"/>
<rect x="161.18" y="708.66" width="28.06" height="20.39" fill="#f7f0ae" stroke="#9c9c9c" stroke-width="0.5"/>
<rect x="189.24" y="708.66" width="28.06" height="20.39" fill="#eff5d5" stroke="#9c9c9c" stroke-width="0.5"/>
<rect x="217.30" y="708.66" width="28.06" height="20.39" fill="#f6dd95" stroke="#9c9c9c" stroke-width="0.5"/>
<rect x="245.36" y="708.66" width="28.06" height="20.39" fill="#ec844c" stroke="#9c9c9c" stroke-width="0.5"/>
<rect x="273.42" y="708.66" width="28.06" height="20.39" fill="#f5d58a" stroke="#9c9c9c" stroke-width="0.5"/>
<rect x="301.48" y="708.66" width="28.06" height="20.39" fill="#d03a29" stroke="#9c9c9c" stroke-width="0.5"/>
<rect x="77.00" y="729.05" width="28.06" height="20.39" fill="#6598c3" stroke="#9c9c9c" stroke-width="0.5"/>
<rect x="105.06" y="729.05" width="28.06" height="20.39" fill="#5686bb" stroke="#9c9c9c" stroke-width="0.5"/>
<rect x="133.12" y="729.05" width="28.06" height="20.39" fill="#70a5c9" stroke="#9c9c9c" stroke-width="0.5"/>
<rect x="161.18" y="729.05" width="28.06" height="20.39" fill="#f7eea9" stroke="#9c9c9c" stroke-width="0.5"/>
<rect x="189.24" y="729.05" width="28.06" height="20.39" fill="#f6e29e" stroke="#9c9c9c" stroke-width="0.5"/>
<rect x="217.30" y="729.05" width="28.06" height="20.39" fill="#f6dc91" stroke="#9c9c9c" stroke-width="0.5"/>
<rect x="245.36" y="729.05" width="28.06" height="20.39" fill="#ec844c" stroke="#9c9c9c" stroke-width="0.5"/>
<rect x="273.42" y="729.05" width="28.06" height="20.39" fill="#f3b56b" stroke="#9c9c9c" stroke-width="0.5"/>
<rect x="301.48" y="729.05" width="28.06" height="20.39" fill="#e87547" stroke="#9c9c9c" stroke-width="0.5"/>
<rect x="77.00" y="749.44" width="28.06" height="20.39" fill="#7eb2d2" stroke="#9c9c9c" stroke-width="0.5"/>
<rect x="105.06" y="749.44" width="28.06" height="20.39" fill="#5684b9" stroke="#9c9c9c" stroke-width="0.5"/>
<rect x="133.12" y="749.44" width="28.06" height="20.39" fill="#7eb2d2" stroke="#9c9c9c" stroke-width="0.5"/>
<rect x="161.18" y="749.44" width="28.06" height="20.39" fill="#eaf3e0" stroke="#9c9c9c" stroke-width="0.5"/>
<rect x="189.24" y="749.44" width="28.06" height="20.39" fill="#f2ab65" stroke="#9c9c9c" stroke-width="0.5"/>
<rect x="217.30" y="749.44" width="28.06" height="20.39" fill="#f5d48a" stroke="#9c9c9c" stroke-width="0.5"/>
<rect x="245.36" y="749.44" width="28.06" height="20.39" fill="#f3b067" stroke="#9c9c9c" stroke-width="0.5"/>
<rect x="273.42" y="749.44" width="28.06" height="20.39" fill="#f6df98" stroke="#9c9c9c" stroke-width="0.5"/>
<rect x="301.48" y="749.44" width="28.06" height="20.39" fill="#d84b33" stroke="#9c9c9c" stroke-width="0.5"/>
<text x="334.5" y="639.40">dehydroascorbate reductase</text>
<text x="539.9" y="639.40">DN1774_c0_g2</text>
<text x="334.5" y="660.14">monodehydroascorbate reductase</text>
<text x="539.9" y="660.14">DN24627_c0_g1</text>
<text x="334.5" y="680.88">catalase 3</text>
<text x="539.9" y="680.88">DN37861_c0_g1</text>
<text x="334.5" y="701.62">monodehydroascorbate reductase 3</text>
<text x="539.9" y="701.62">DN14273_c0_g1</text>
<text x="334.5" y="722.36">catalase</text>
<text x="539.9" y="722.36">DN40513_c0_g1</text>
<text x="334.5" y="743.10">glutathione reductase</text>
<text x="539.9" y="743.10">DN1924_c0_g1</text>
<text x="334.5" y="763.84">glutathione reductase</text>
<text x="539.9" y="763.84">DN22323_c0_g1</text>
<text text-anchor="end" transform="translate(93.43,778.03) rotate(-45)">CK−1</text>
<text text-anchor="end" transform="translate(122.89,778.03) rotate(-45)">CK−2</text>
<text text-anchor="end" transform="translate(150.65,778.03) rotate(-45)">CK−3</text>
<text text-anchor="end" transform="translate(180.41,778.03) rotate(-45)">TR12h−1</text>
<text text-anchor="end" transform="translate(209.47,778.03) rotate(-45)">TR12h−2</text>
<text text-anchor="end" transform="translate(237.53,778.03) rotate(-45)">TR12h−3</text>
<text text-anchor="end" transform="translate(265.69,778.03) rotate(-45)">TR24h−1</text>
<text text-anchor="end" transform="translate(295.15,778.03) rotate(-45)">TR24h−2</text>
<text text-anchor="end" transform="translate(323.61,778.03) rotate(-45)">TR24h−3</text>
<line x1="59.30" y1="657.69" x2="59.30" y2="678.08"/>
<line x1="59.30" y1="657.69" x2="77.00" y2="657.69"/>
<line x1="59.30" y1="678.08" x2="77.00" y2="678.08"/>
<line x1="68.90" y1="698.47" x2="68.90" y2="718.86"/>
<line x1="68.90" y1="698.47" x2="77.00" y2="698.47"/>
<line x1="68.90" y1="718.86" x2="77.00" y2="718.86"/>
<line x1="64.00" y1="739.25" x2="64.00" y2="759.63"/>
<line x1="64.00" y1="739.25" x2="77.00" y2="739.25"/>
<line x1="64.00" y1="759.63" x2="77.00" y2="759.63"/>
<line x1="58.30" y1="708.66" x2="58.30" y2="749.44"/>
<line x1="58.30" y1="708.66" x2="68.90" y2="708.66"/>
<line x1="58.30" y1="749.44" x2="64.00" y2="749.44"/>
<line x1="46.40" y1="667.88" x2="46.40" y2="729.05"/>
<line x1="46.40" y1="667.88" x2="59.30" y2="667.88"/>
<line x1="46.40" y1="729.05" x2="58.30" y2="729.05"/>
<line x1="41.30" y1="637.30" x2="41.30" y2="698.47"/>
<line x1="41.30" y1="637.30" x2="77.00" y2="637.30"/>
<line x1="41.30" y1="698.47" x2="46.40" y2="698.47"/>
<text class="lt" x="0.4" y="640.8" style="font-size:17.6px">c</text>
<rect x="656.6" y="631.0" width="13.2" height="88.80" fill="url(#lg)"/>
<text text-anchor="end" x="685.3" y="636.70">2</text>
<text text-anchor="end" x="685.3" y="658.50">1</text>
<text text-anchor="end" x="685.3" y="680.40">0</text>
<text text-anchor="end" x="685.3" y="702.30">−1</text>
<text text-anchor="end" x="685.3" y="724.00">−2</text>
<text text-anchor="middle" transform="translate(652.2,678.00) rotate(-90)">TPM</text>
</svg>
</body></html>
